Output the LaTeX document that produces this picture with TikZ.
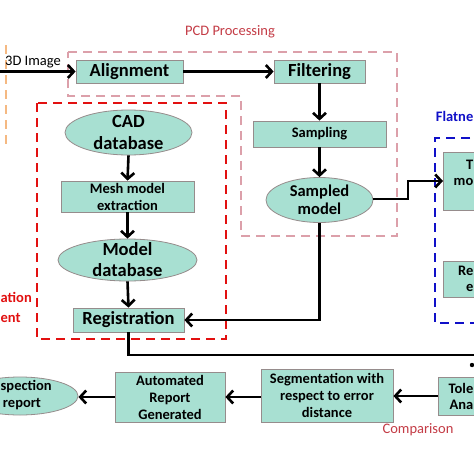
\documentclass[tikz,border=0pt]{standalone}
\usepackage{fontspec}
\setmainfont{Carlito}
\usetikzlibrary{arrows.meta,shapes.geometric}
\definecolor{boxfill}{RGB}{168,224,210}
\definecolor{boxline}{RGB}{150,140,140}
\definecolor{pinkd}{RGB}{220,160,170}
\definecolor{redd}{RGB}{226,16,16}
\definecolor{blued}{RGB}{16,16,200}
\definecolor{oranged}{RGB}{245,185,130}
\definecolor{lblred}{RGB}{196,60,70}
\begin{document}
\begin{tikzpicture}[x=1pt,y=-1pt,
 box/.style={draw=boxline, fill=boxfill, line width=0.8pt, inner sep=0pt, align=center},
 oval/.style={ellipse, draw=boxline, fill=boxfill, line width=0.8pt, inner sep=0pt},
 big/.style={font=\fontsize{18.5}{21}\selectfont\bfseries, align=center, inner sep=0pt},
 mid/.style={font=\fontsize{16.5}{18}\selectfont\bfseries, align=center, inner sep=0pt},
 small/.style={font=\fontsize{14.5}{17}\selectfont\bfseries},
 frag/.style={font=\fontsize{14.5}{17}\selectfont\bfseries, inner sep=0pt},
 plain/.style={font=\fontsize{14.5}{17}\selectfont, inner sep=0pt},
 arr/.style={line width=2.6pt, -{Straight Barb[length=6pt,width=13pt]}},
 conn/.style={line width=2.6pt},
 dsh/.style={line width=2.2pt, dash pattern=on 9pt off 6pt}]
\useasboundingbox (0,0) rectangle (474,474);
\clip (0,0) rectangle (474,474);
\fill[white] (0,0) rectangle (474,474);

% dashed groups
\draw[dsh, draw=oranged] (6,45) -- (6,148);
\draw[dsh, draw=pinkd] (68,52) -- (397,52) -- (397,236) -- (241,236) -- (241,96) -- (68,96) -- cycle;
\draw[dsh, draw=redd] (37,103) rectangle (226,339);
\draw[dsh, draw=blued] (500,138) -- (435,138) -- (435,323) -- (500,323);

% labels of groups
\node[plain, text=lblred] (pcdlbl) at (230,32) {PCD Processing};
\node[plain, text=lblred] (cmplbl) at (418,430) {Comparison};
\node[frag, text=blued, anchor=east] (flatlbl) at (473.5,116) {Flatne};
\node[frag, text=redd, anchor=west] (lbla) at (0.5,297) {ation};
\node[frag, text=redd, anchor=west] (lblb) at (0.5,318) {ent};

% nodes
\node[box, big, minimum width=107pt, minimum height=23pt] (align) at (129.5,71.5) {Alignment};
\node[box, big, minimum width=91pt, minimum height=23pt] (filt) at (319.5,71.5) {Filtering};
\node[box, small, minimum width=133pt, minimum height=26pt] (samp) at (319.5,134) {Sampling};
\node[oval, minimum width=107pt, minimum height=45pt] (sm) at (319.5,200) {};
\node[mid] (smt) at (sm) {Sampled\\model};
\node[oval, minimum width=127pt, minimum height=45pt] (cad) at (128.5,132.5) {};
\node[big] (cadt) at (cad) {CAD\\database};
\node[box, small, minimum width=133pt, minimum height=31pt] (mesh) at (127.5,196.5) {Mesh model\\extraction};
\node[oval, minimum width=139pt, minimum height=42pt] (mdb) at (127.5,260) {};
\node[big] (mdbt) at (mdb) {Model\\database};
\node[box, big, minimum width=111pt, minimum height=24pt] (reg) at (128.5,320) {Registration};

\node[box, minimum width=50pt, minimum height=58pt, anchor=west] (tbox) at (443,181) {};
\node[frag, anchor=east] (tboxa) at (473.5,165) {T};
\node[frag, anchor=east] (tboxb) at (473.5,182) {mo};
\node[box, minimum width=50pt, minimum height=36pt, anchor=west] (rebox) at (443,279) {};
\node[frag, anchor=east] (reboxa) at (473.5,271) {Re};
\node[frag, anchor=east] (reboxb) at (473.5,288) {e};
\node[box, minimum width=50pt, minimum height=38pt, anchor=west] (tole) at (438,396) {};
\node[frag, anchor=east] (tolea) at (473.5,388) {Tole};
\node[frag, anchor=east] (toleb) at (473.5,405) {Ana};

\node[box, small, minimum width=132pt, minimum height=53pt] (seg) at (327,395.5) {Segmentation with\\respect to error\\distance};
\node[box, small, minimum width=110pt, minimum height=50pt] (auto) at (170,397) {Automated\\Report\\Generated};
\node[oval, minimum width=116pt, minimum height=38pt] (insp) at (20,396) {};
\node[frag, anchor=west] (inspa) at (0.5,387) {spection};
\node[frag] (inspb) at (22,404) {report};

% connectors
\coordinate (src) at (-5,71.5);
\draw[arr] (src) -- (align.west);
\node[plain, anchor=south] (img) at (33,68) {3D Image};
\draw[arr] (align.east) -- (filt.west);
\draw[arr] (filt.south) -- (samp.north);
\draw[arr] (samp.south) -- (sm.north);
\draw[arr] (cad.south) -- (mesh.north);
\draw[arr] (mesh.south) -- (mdb.north);
\draw[arr] (mdb.south) -- (reg.north);
\coordinate (step1) at (408,199);
\draw[arr] (sm.east |- step1) -- (step1) |- (tbox.west);
\draw[arr] (sm.south) |- (reg.east);
\coordinate (far) at (490,355);
\draw[conn] (reg.south) |- (far);
\fill (472,365) circle (2.2pt);
\draw[arr] (tole.west) -- (seg.east |- tole.west);
\draw[arr] (seg.west |- auto.west) -- (auto.east);
\draw[arr] (auto.west) -- (insp.east |- auto.west);
\end{tikzpicture}
\end{document}
